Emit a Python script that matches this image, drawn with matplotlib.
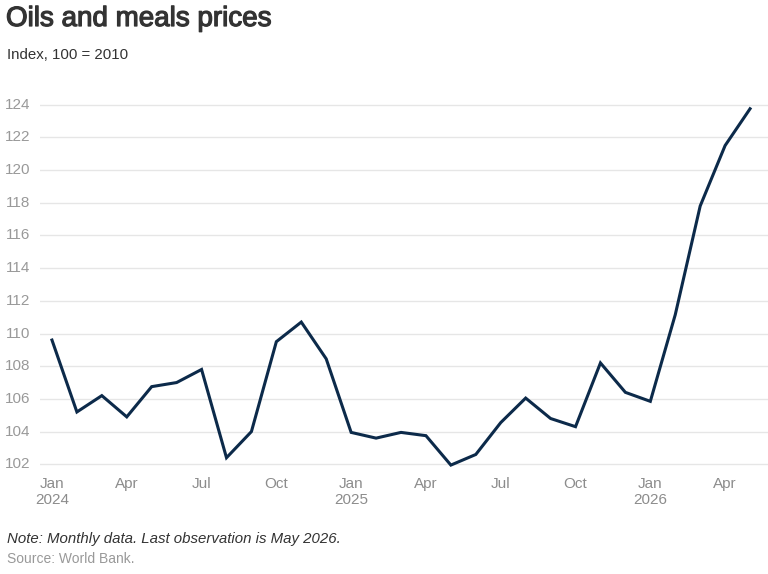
import matplotlib.pyplot as plt
import matplotlib.patheffects as pe
import numpy as np

# Monthly index values, Jan 2024 .. May 2026 (100 = 2010)
months = ['Jan', 'Feb', 'Mar', 'Apr', 'May', 'Jun', 'Jul', 'Aug', 'Sep', 'Oct', 'Nov', 'Dec',
          'Jan', 'Feb', 'Mar', 'Apr', 'May', 'Jun', 'Jul', 'Aug', 'Sep', 'Oct', 'Nov', 'Dec',
          'Jan', 'Feb', 'Mar', 'Apr', 'May']
prices = [109.6, 105.2, 106.2, 104.9, 106.75, 107.0, 107.8, 102.4, 104.0, 109.5, 110.7, 108.45,
          103.95, 103.6, 103.95, 103.75, 101.95, 102.6, 104.55, 106.05, 104.8, 104.3, 108.2, 106.4,
          105.85, 111.15, 117.8, 121.5, 123.75]
tick_idx = [0, 3, 6, 9, 12, 15, 18, 21, 24, 27]
tick_labels = ['Jan\n2024', 'Apr', 'Jul', 'Oct', 'Jan\n2025', 'Apr', 'Jul', 'Oct', 'Jan\n2026', 'Apr']
yticks = [102, 104, 106, 108, 110, 112, 114, 116, 118, 120, 122, 124]

plt.rcParams['font.family'] = ['Liberation Sans', 'DejaVu Sans']

fig = plt.figure(figsize=(7.68, 5.74), dpi=100)
W, H = 768, 574
# axes box in pixel coords: x 40..768, y 96..470 (from top)
ax = fig.add_axes([40 / W, 1 - 470 / H, (768 - 40) / W, (470 - 96) / H])

x = np.arange(len(prices))
ax.plot(x, prices, color='#0c2a4a', linewidth=2.2, solid_joinstyle='miter', clip_on=False)

ax.set_xlim(-0.48, 28.72)
ax.set_ylim(101.65, 124.53)
ax.set_yticks(yticks)
ax.set_yticklabels([str(v) for v in yticks])
ax.set_xticks(tick_idx)
ax.set_xticklabels(tick_labels)
ax.grid(axis='y', color='#e6e6e6', linewidth=1)
ax.set_axisbelow(True)
for s in ax.spines.values():
    s.set_visible(False)
ax.tick_params(axis='y', length=0, pad=7, labelsize=11, labelcolor='#999999')
ax.tick_params(axis='x', length=0, pad=5, labelsize=11, labelcolor='#8c8c8c')
for lbl in ax.get_yticklabels():
    lbl.set_verticalalignment('center')

# title looks a bit heavier than regular weight, thicken it with a thin stroke
fig.text(6 / W, 1 - 19 / H, 'Oils and meals prices', fontsize=20, color='#333333',
         va='center', ha='left',
         path_effects=[pe.withStroke(linewidth=0.9, foreground='#333333')])
fig.text(7 / W, 1 - 55 / H, 'Index, 100 = 2010', fontsize=10.8, color='#333333',
         va='center', ha='left')
fig.text(7 / W, 1 - 539 / H, 'Note: Monthly data. Last observation is May 2026.', fontsize=10.8,
         style='italic', color='#333333', va='center', ha='left')
fig.text(7 / W, 1 - 559 / H, 'Source: World Bank.', fontsize=10, color='#999999',
         va='center', ha='left')

plt.savefig('out.png', dpi=100)
